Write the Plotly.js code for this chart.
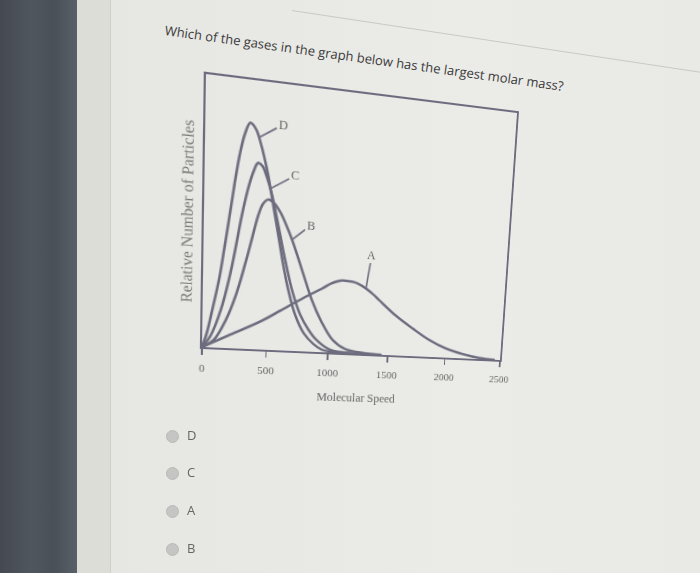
<!DOCTYPE html>
<html>
<head>
<meta charset="utf-8">
<script src="https://cdn.plot.ly/plotly-3.0.1.min.js"></script>
<style>
  html, body { margin:0; padding:0; width:700px; height:573px; overflow:hidden; background:#e7e7e3; }
  #strip { position:absolute; left:0; top:0; width:77px; height:573px;
           background:linear-gradient(90deg,#454a52 0%,#50565e 40%,#4a5058 70%,#5a6068 100%); }
  #strip2 { position:absolute; left:77px; top:0; width:33px; height:573px; background:#dcddd7;
            border-right:1px solid #cfd0ca; }
  #page { position:absolute; left:111px; top:0; width:589px; height:573px;
          background:linear-gradient(90deg,#e6e6e2 0%,#ebebe8 60%,#e9e9e6 100%); }
  #rule { position:absolute; left:292px; top:10px; width:430px; height:1px; background:#c9c9c4;
          transform:rotate(8.6deg); transform-origin:0 0; }
  #question { position:absolute; left:165px; top:21px; white-space:nowrap;
              font-family:"Open Sans", sans-serif; font-size:13px; color:#3a3a3a;
              transform:rotate(8deg); transform-origin:0 50%; }
  #chart { position:absolute; left:0; top:0; width:700px; height:573px; transform-origin:0 0; }
  .opt { position:absolute; left:166px; height:14px; font-family:"Open Sans", sans-serif;
         font-size:13px; color:#666; line-height:14px; }
  .opt span.dot { display:inline-block; width:11px; height:11px; border-radius:50%;
                  background:#c5c6c4; border:1px solid #b8b9b7; vertical-align:middle; margin-right:8px; }
</style>
</head>
<body>
<div id="strip"></div>
<div id="strip2"></div>
<div id="page"></div>
<div id="rule"></div>
<div id="question">Which of the gases in the graph below has the largest molar mass?</div>
<div id="chart"></div>
<div id="options"></div>
<script>
// Gas speed distributions (relative number of particles)
const speedD = [0, 35, 72, 122, 156, 191, 225, 259, 295, 336, 380, 421, 464, 497, 530, 576, 622, 667, 722, 795, 878, 949, 1100, 1300];
const countD = [0, 5.5, 13.9, 26.1, 37.2, 49.4, 61.6, 72.3, 80.2, 84.6, 82.5, 77.1, 69.5, 62.4, 54.2, 43.1, 31.9, 22.8, 14.3, 7.3, 3.1, 1, 0.1, 0];

const speedC = [0, 63, 139, 200, 247, 282, 329, 368, 401, 435, 472, 514, 552, 588, 631, 691, 763, 835, 897, 1009, 1143, 1300];
const countC = [0, 4.4, 14.5, 26.9, 39.3, 49.5, 60.6, 67.2, 70.4, 69.4, 65.4, 59.1, 51.5, 44, 35, 23.9, 14.4, 8.6, 5, 1.3, 0.25, 0];

const speedB = [0, 90, 179, 254, 316, 364, 411, 447, 486, 530, 582, 632, 674, 722, 778, 851, 937, 1034, 1142, 1300, 1450];
const countB = [0, 3, 10.8, 20.7, 31.9, 41.5, 51, 55.6, 57.3, 56.2, 53, 48.3, 43.7, 37.7, 30.2, 20.6, 12.1, 5.1, 1.65, 0.4, 0];

const speedA = [0, 198, 459, 603, 786, 931, 1008, 1091, 1175, 1225, 1293, 1357, 1411, 1561, 1708, 1856, 2004, 2157, 2309, 2450];
const countA = [0, 4.8, 11.2, 15.5, 21, 25, 27.3, 28.7, 28.5, 27.9, 26.2, 24, 21.8, 15.9, 11.2, 6.9, 3.8, 1.8, 0.5, 0];

const gasNames = ["D", "C", "B", "A"];
// label text position and the curve point its leader line touches
const labelX = [585, 688, 825, 1330];
const labelY = [85.3, 67, 49, 39.5];
const tipX = [405, 503, 680, 1293];
const tipY = [79.7, 61.5, 43, 26.2];

const xTicks = [0, 500, 1000, 1500, 2000, 2500];
const answerChoices = ["D", "C", "A", "B"];

const lineColor = "#6d6c7e";
const serif = "Liberation Serif, DejaVu Serif, serif";

const series = [[speedD, countD], [speedC, countC], [speedB, countB], [speedA, countA]];
const traces = series.map((s, i) => ({
  x: s[0], y: s[1], name: gasNames[i], type: "scatter", mode: "lines",
  line: { color: lineColor, width: 2.5, shape: "spline", smoothing: 1 },
  hoverinfo: "skip", showlegend: false
}));

const annotations = gasNames.map((g, i) => ({
  x: tipX[i], y: tipY[i], xref: "x", yref: "y",
  ax: labelX[i], ay: labelY[i], axref: "x", ayref: "y",
  text: g, showarrow: true, arrowhead: 0, arrowwidth: 1.6, arrowcolor: lineColor,
  font: { family: serif, size: 12, color: "#666" }
}));

const plotL = 201, plotT = 93, plotW = 308, plotH = 262;

const layout = {
  width: 700, height: 573,
  margin: { l: plotL, r: 700 - plotL - plotW, t: plotT, b: 573 - plotT - plotH },
  paper_bgcolor: "rgba(0,0,0,0)", plot_bgcolor: "rgba(0,0,0,0)",
  showlegend: false,
  xaxis: {
    range: [0, 2500], tickvals: xTicks, ticktext: xTicks.map(String),
    ticks: "outside", ticklen: 6, tickwidth: 1.5, tickcolor: lineColor,
    ticklabelstandoff: 4,
    showline: true, linecolor: lineColor, linewidth: 2.2, mirror: true,
    showgrid: false, zeroline: false,
    tickfont: { family: serif, size: 11, color: "#666" },
    title: { text: "Molecular Speed", font: { family: serif, size: 12, color: "#666" }, standoff: 16 },
    fixedrange: true
  },
  yaxis: {
    range: [0, 100], showticklabels: false, ticks: "",
    showline: true, linecolor: lineColor, linewidth: 2.2, mirror: true,
    showgrid: false, zeroline: false,
    title: { text: "Relative Number of Particles", font: { family: serif, size: 15, color: "#777" }, standoff: 4 },
    fixedrange: true
  },
  annotations: annotations
};

Plotly.newPlot("chart", traces, layout, { displayModeBar: false, staticPlot: true });

// The photographed screen is seen in perspective: map the plot rectangle onto
// the four corners of the frame as they appear in the photo.
function solve(A, b) {
  const n = b.length;
  for (let i = 0; i < n; i++) {
    let p = i;
    for (let r = i + 1; r < n; r++) if (Math.abs(A[r][i]) > Math.abs(A[p][i])) p = r;
    [A[i], A[p]] = [A[p], A[i]]; [b[i], b[p]] = [b[p], b[i]];
    for (let r = i + 1; r < n; r++) {
      const f = A[r][i] / A[i][i];
      for (let c = i; c < n; c++) A[r][c] -= f * A[i][c];
      b[r] -= f * b[i];
    }
  }
  const x = new Array(n).fill(0);
  for (let i = n - 1; i >= 0; i--) {
    let s = b[i];
    for (let c = i + 1; c < n; c++) s -= A[i][c] * x[c];
    x[i] = s / A[i][i];
  }
  return x;
}
function perspective(src, dst) {
  const A = [], b = [];
  for (let i = 0; i < 4; i++) {
    const [x, y] = src[i], [X, Y] = dst[i];
    A.push([x, y, 1, 0, 0, 0, -x * X, -y * X]); b.push(X);
    A.push([0, 0, 0, x, y, 1, -x * Y, -y * Y]); b.push(Y);
  }
  const h = solve(A, b);
  return "matrix3d(" + [h[0], h[3], 0, h[6], h[1], h[4], 0, h[7], 0, 0, 1, 0, h[2], h[5], 0, 1].join(",") + ")";
}
const srcCorners = [[plotL, plotT], [plotL + plotW, plotT], [plotL + plotW, plotT + plotH], [plotL, plotT + plotH]];
const dstCorners = [[206, 74], [517, 113], [500, 360], [202, 347]];
document.getElementById("chart").style.transform = perspective(srcCorners, dstCorners);

const optBox = document.getElementById("options");
const optTop = [428, 465, 503, 541];
answerChoices.forEach((c, i) => {
  const d = document.createElement("div");
  d.className = "opt";
  d.style.top = optTop[i] + "px";
  d.innerHTML = '<span class="dot"></span>' + c;
  optBox.appendChild(d);
});
</script>
</body>
</html>
